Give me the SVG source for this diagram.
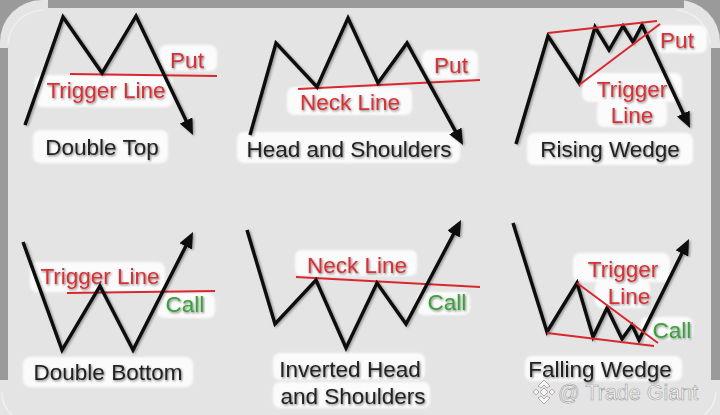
<svg xmlns="http://www.w3.org/2000/svg" width="720" height="415" viewBox="0 0 720 415">
<defs>
<style>
.box{fill:#fbfbfb}
.lbl{font-family:"Liberation Sans",Arial,sans-serif;font-size:22.5px;text-anchor:middle}
.dark{fill:#222222}
.red{fill:#d63036}
.green{fill:#3a9f3a}
.px{fill:none;stroke:#0a0a0a;stroke-width:3.4;stroke-linejoin:miter;stroke-miterlimit:10}
.rl{fill:none;stroke:#d8282e;stroke-width:2}
.wm{font-family:"Liberation Sans",Arial,sans-serif;font-size:21.5px;fill:#f6f6f6;stroke:#9c9c9c;stroke-width:0.6}
</style>
<marker id="ah" markerUnits="userSpaceOnUse" markerWidth="17" markerHeight="14" refX="11" refY="7" orient="auto">
<path d="M0,0 L16,7 L0,14 z" fill="#0a0a0a"/>
</marker>
<filter id="sh" x="-10%" y="-10%" width="120%" height="130%">
<feDropShadow dx="1.5" dy="1" stdDeviation="1.2" flood-color="#000" flood-opacity="0.35"/>
</filter>
<filter id="tsh" x="-10%" y="-20%" width="120%" height="150%">
<feDropShadow dx="1" dy="1.2" stdDeviation="1" flood-color="#000" flood-opacity="0.5"/>
</filter>
<filter id="soft" x="-10%" y="-20%" width="120%" height="140%">
<feGaussianBlur stdDeviation="0.8"/>
</filter>
</defs>

<!-- frame -->
<g id="frame">
<rect x="0" y="0" width="720" height="415" fill="#9a9a9a"/>
<rect x="0" y="0" width="720" height="470" rx="42" fill="#e4e4e4"/>
<rect x="48" y="0" width="636" height="8" fill="#9a9a9a"/>
<rect x="0" y="48" width="8" height="332" fill="#9a9a9a"/>
<rect x="711" y="48" width="9" height="332" fill="#9a9a9a"/>
<path d="M8,44 A36,36 0 0 1 44,10" fill="none" stroke="#efefef" stroke-width="1.5"/>
<path d="M676,10 A36,36 0 0 1 710,44" fill="none" stroke="#efefef" stroke-width="1.5"/>
<path d="M2,392 A30,30 0 0 0 12,415" fill="none" stroke="#f0f0f0" stroke-width="1.5"/>
<path d="M716,392 A30,30 0 0 1 704,415" fill="none" stroke="#f0f0f0" stroke-width="1.5"/>
</g>

<!-- label boxes -->
<g id="boxes" filter="url(#soft)">
<rect class="box" x="159" y="45" width="58" height="26" rx="7"/>
<rect class="box" x="35" y="75" width="138" height="32" rx="7"/>
<rect class="box" x="33" y="130" width="135" height="33" rx="7"/>
<rect class="box" x="422" y="50" width="56" height="29" rx="7"/>
<rect class="box" x="287" y="87" width="125" height="28" rx="7"/>
<rect class="box" x="237" y="132" width="223" height="31" rx="7"/>
<rect class="box" x="657" y="25" width="50" height="28" rx="7"/>
<rect class="box" x="582" y="73" width="100" height="29" rx="7"/>
<rect class="box" x="597" y="100" width="70" height="27" rx="7"/>
<rect class="box" x="527" y="133" width="166" height="32" rx="7"/>
<rect class="box" x="30" y="262" width="135" height="30" rx="7"/>
<rect class="box" x="157" y="293" width="58" height="25" rx="7"/>
<rect class="box" x="23" y="357" width="170" height="30" rx="7"/>
<rect class="box" x="295" y="250" width="122" height="26" rx="7"/>
<rect class="box" x="417" y="292" width="53" height="23" rx="7"/>
<rect class="box" x="273" y="353" width="152" height="27" rx="7"/>
<rect class="box" x="273" y="382" width="157" height="26" rx="7"/>
<rect class="box" x="573" y="253" width="97" height="29" rx="7"/>
<rect class="box" x="595" y="280" width="55" height="28" rx="7"/>
<rect class="box" x="640" y="317" width="53" height="23" rx="7"/>
<rect class="box" x="525" y="356" width="157" height="25" rx="7"/>
</g>

<!-- labels -->
<g id="labels" filter="url(#tsh)">
<text class="lbl red" x="187" y="68">Put</text>
<text class="lbl red" x="106" y="98">Trigger Line</text>
<text class="lbl dark" x="102" y="155">Double Top</text>
<text class="lbl red" x="451" y="73">Put</text>
<text class="lbl red" x="350" y="110">Neck Line</text>
<text class="lbl dark" x="349" y="157">Head and Shoulders</text>
<text class="lbl red" x="677" y="48">Put</text>
<text class="lbl red" x="632" y="97">Trigger</text>
<text class="lbl red" x="632" y="123">Line</text>
<text class="lbl dark" x="610" y="157">Rising Wedge</text>
<text class="lbl red" x="100" y="284">Trigger Line</text>
<text class="lbl green" x="185" y="312">Call</text>
<text class="lbl dark" x="108" y="380">Double Bottom</text>
<text class="lbl red" x="357" y="273">Neck Line</text>
<text class="lbl green" x="447" y="310">Call</text>
<text class="lbl dark" x="350" y="377">Inverted Head</text>
<text class="lbl dark" x="353" y="404">and Shoulders</text>
<text class="lbl red" x="623" y="277">Trigger</text>
<text class="lbl red" x="629" y="304">Line</text>
<text class="lbl green" x="672" y="338">Call</text>
<text class="lbl dark" x="600" y="377">Falling Wedge</text>
</g>

<!-- connectors: pattern lines -->
<g id="connectors">
<g id="trigger-lines-a">
<line class="rl" x1="70" y1="74" x2="217" y2="76"/>
<line class="rl" x1="298" y1="89" x2="480" y2="80"/>
<line class="rl" x1="67" y1="293" x2="215" y2="291"/>
<line class="rl" x1="296" y1="277" x2="480" y2="287"/>
</g>
<g id="price-paths" filter="url(#sh)">
<polyline id="double-top" class="px" marker-end="url(#ah)" points="25,125 63,17 102,73 136,16 190.8,130.5"/>
<polyline id="head-shoulders" class="px" marker-end="url(#ah)" points="250,135 276,43 317,87 348,18 378,83 407,43 460.6,140.6"/>
<polyline id="rising-wedge" class="px" marker-end="url(#ah)" points="516,144 548,36 579,83 595,27 609,50 623,26 633,42 642,25 687.9,123.5"/>
<polyline id="double-bottom" class="px" marker-end="url(#ah)" points="23,242 62,350 100,286 133,350 190.7,236.5"/>
<polyline id="inv-head-shoulders" class="px" marker-end="url(#ah)" points="247,230 275,324 316,280 346,348 377,283 406,324 458.7,224.4"/>
<polyline id="falling-wedge" class="px" marker-end="url(#ah)" points="513,223 547,332 577,283 593,337 607,308 622,339 632,325 639,340 686.8,243.5"/>
</g>
<g id="trigger-lines-b">
<line class="rl" x1="548" y1="33" x2="657" y2="21"/>
<line class="rl" x1="579" y1="85" x2="660" y2="24"/>
<line class="rl" x1="547" y1="333" x2="654" y2="346"/>
<line class="rl" x1="577" y1="283" x2="658" y2="343"/>
</g>
</g>

<!-- watermark -->
<g id="watermark">
<g fill="#f6f6f6" stroke="#9c9c9c" stroke-width="0.8">
<path d="M544,388 L548,392 L544,396 L540,392 z"/>
<path d="M536,389 L539,392 L536,395 L533,392 z"/>
<path d="M552,389 L555,392 L552,395 L549,392 z"/>
<path d="M538,386 L544,380 L550,386 L547,388 L544,385 L541,388 z"/>
<path d="M538,398 L544,404 L550,398 L547,396 L544,399 L541,396 z"/>
</g>
<text class="wm" x="558" y="400">@ Trade Giant</text>
</g>
</svg>
